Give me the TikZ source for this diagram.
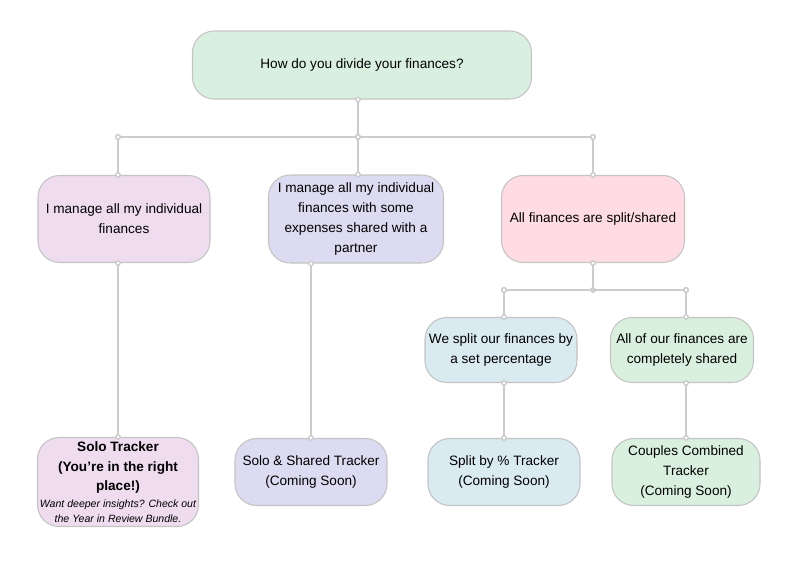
\documentclass[tikz,border=0pt]{standalone}
\usepackage{fontspec}
\setmainfont{Liberation Sans}
\usetikzlibrary{arrows.meta}

\definecolor{mintbg}{RGB}{217,239,224}
\definecolor{lilacbg}{RGB}{239,220,239}
\definecolor{lavenderbg}{RGB}{221,219,241}
\definecolor{rosebg}{RGB}{255,220,227}
\definecolor{skybg}{RGB}{217,234,241}
\definecolor{greenbg}{RGB}{218,240,222}
\definecolor{edgegray}{RGB}{196,196,196}
\definecolor{linkgray}{RGB}{204,204,204}

\begin{document}
\begin{tikzpicture}[x=0.3mm, y=-0.3mm,
        box/.style={draw=edgegray, line width=0.9pt, rounded corners=6.5mm,
            align=center, inner sep=0pt, font=\fontsize{11.6}{17}\selectfont},
        link/.style={draw=linkgray, line width=1.2pt,
            {Circle[open,fill=white,length=5pt]}-{Circle[open,fill=white,length=5pt]},
            shorten <=-2.5pt, shorten >=-2.5pt}]
    \useasboundingbox (0, 0) rectangle (794, 561);

    % Question
    \node[box, fill=mintbg, minimum width=101.7mm, minimum height=20.4mm] (top) at (362, 65)
        {How do you divide your finances?};

    % Level 1
    \node[box, fill=lilacbg, minimum width=51.6mm, minimum height=26.1mm] (l1a) at (124, 219)
        {I manage all my individual\\finances};
    \node[box, fill=lavenderbg, minimum width=52.5mm, minimum height=26.4mm] (l1b) at (356, 219)
        {I manage all my individual\\finances with some\\expenses shared with a\\partner};
    \node[box, fill=rosebg, minimum width=54.9mm, minimum height=26.1mm] (l1c) at (593, 219)
        {All finances are split/shared};

    % Level 2
    \node[box, fill=skybg, minimum width=45.6mm, minimum height=19.5mm] (l2a) at (501, 350)
        {We split our finances by\\a set percentage};
    \node[box, fill=greenbg, minimum width=42.9mm, minimum height=19.5mm] (l2b) at (682, 350)
        {All of our finances are\\completely shared};

    % Trackers
    \node[box, fill=lilacbg, minimum width=48.3mm, minimum height=26.7mm] (t1) at (118, 482)
        {\textbf{Solo Tracker}\\\textbf{(You’re in the right}\\\textbf{place!)}\\[-3pt]
         {\fontsize{9}{11}\selectfont\itshape Want deeper insights? Check out}\\[-4pt]
         {\fontsize{9}{11}\selectfont\itshape the Year in Review Bundle.}};
    \node[box, fill=lavenderbg, minimum width=45.6mm, minimum height=20.1mm] (t2) at (311, 472)
        {Solo \& Shared Tracker\\(Coming Soon)};
    \node[box, fill=skybg, minimum width=45.6mm, minimum height=20.1mm] (t3) at (504, 472)
        {Split by \% Tracker\\(Coming Soon)};
    \node[box, fill=greenbg, minimum width=44.4mm, minimum height=20.1mm] (t4) at (686, 472)
        {Couples Combined\\Tracker\\(Coming Soon)};

    % Bus points
    \coordinate (bus) at (358, 137);
    \coordinate (bus2) at (593, 290);

    % Connectors
    \draw[link] (top.south -| bus) -- (bus);
    \draw[link] (bus -| t1) -- (bus -| l1c);
    \draw[link] (bus -| t1) -- (l1a.north -| t1);
    \draw[link] (bus) -- (l1b.north -| bus);
    \draw[link] (bus -| l1c) -- (l1c.north);
    \draw[link] (l1a.south -| t1) -- (t1.north);
    \draw[link] (l1b.south -| t2) -- (t2.north);
    \draw[link] (l1c.south) -- (bus2);
    \draw[link] (bus2 -| t3) -- (bus2 -| t4);
    \draw[link] (bus2 -| t3) -- (l2a.north -| t3);
    \draw[link] (bus2 -| t4) -- (l2b.north -| t4);
    \draw[link] (l2a.south -| t3) -- (t3.north);
    \draw[link] (l2b.south -| t4) -- (t4.north);
\end{tikzpicture}
\end{document}
